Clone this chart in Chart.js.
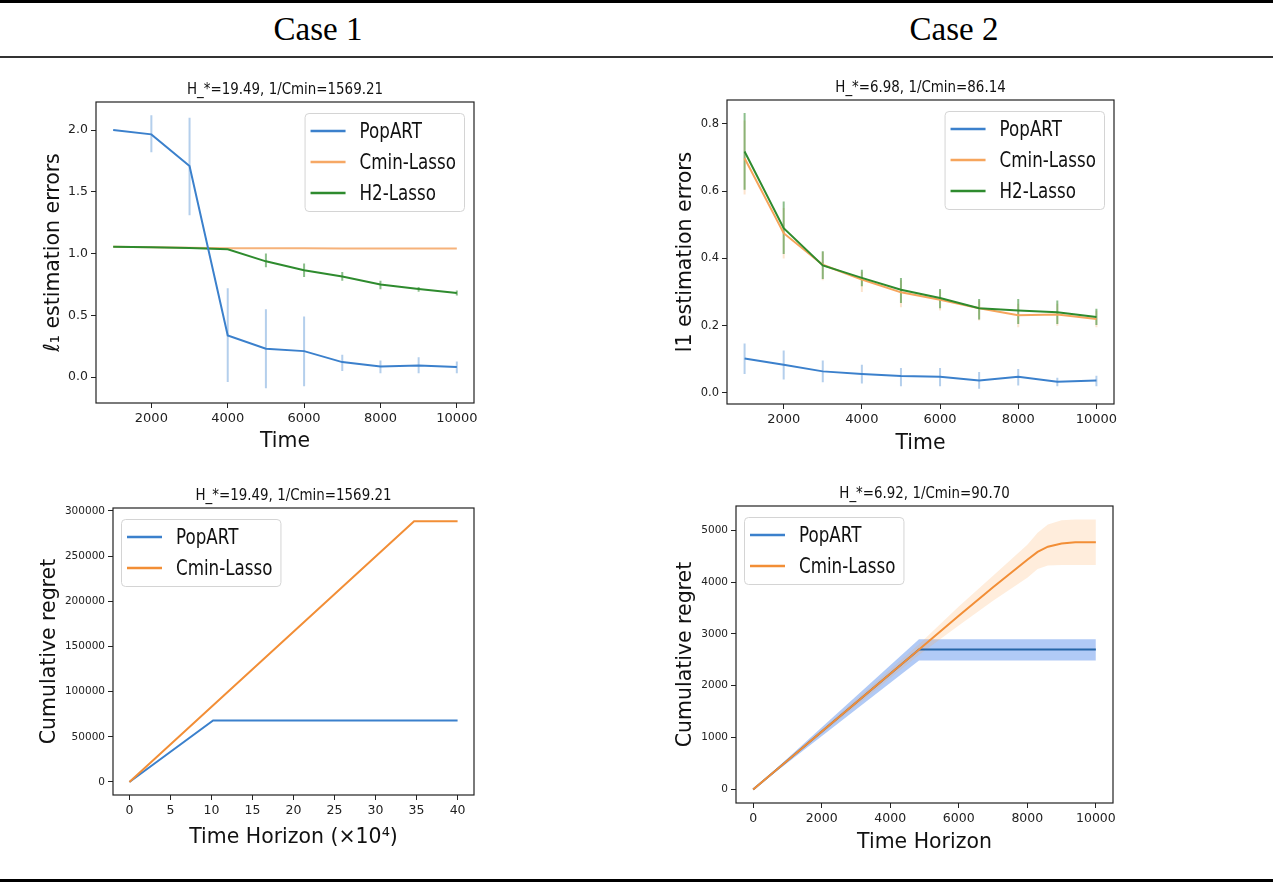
<!DOCTYPE html>
<html>
<head>
<meta charset="utf-8">
<script src="https://cdn.jsdelivr.net/npm/chart.js@4.4.1/dist/chart.umd.min.js"></script>
<style>
  body { margin: 0; background: #fff; width: 1273px; height: 885px; position: relative; overflow: hidden; }
  .rule { position: absolute; left: 0; width: 1273px; background: #000; }
  .case { position: absolute; top: 8px; width: 636px; height: 42px; line-height: 42px; text-align: center;
          font-family: "Liberation Serif", "Times New Roman", serif; font-size: 33px; color: #000; }
  canvas { position: absolute; }
</style>
</head>
<body>
<div class="rule" style="top:0;height:3px"></div>
<div class="case" style="left:0">Case 1</div>
<div class="case" style="left:636px">Case 2</div>
<div class="rule" style="top:56px;height:2px;background:#333"></div>
<div class="rule" style="top:879px;height:3px"></div>

<canvas id="p1"></canvas>
<canvas id="p2"></canvas>
<canvas id="p3"></canvas>
<canvas id="p4"></canvas>

<script>
// ---- data ----
var steps = [1000, 2000, 3000, 4000, 5000, 6000, 7000, 8000, 9000, 10000];

// case 1, estimation errors
var c1PopartErr   = [2.00, 1.965, 1.708, 0.337, 0.229, 0.21, 0.121, 0.086, 0.094, 0.081];
var c1PopartErrLo = [2.00, 1.82, 1.31, -0.04, -0.09, -0.075, 0.05, 0.03, 0.03, 0.03];
var c1PopartErrHi = [2.00, 2.12, 2.10, 0.72, 0.55, 0.49, 0.18, 0.135, 0.16, 0.125];
var c1CminErr     = [1.055, 1.05, 1.046, 1.043, 1.042, 1.042, 1.041, 1.04, 1.04, 1.04];
var c1H2Err       = [1.055, 1.05, 1.045, 1.034, 0.937, 0.864, 0.815, 0.75, 0.713, 0.68];
var c1H2ErrLo     = [1.055, 1.05, 1.045, 1.03, 0.89, 0.81, 0.78, 0.71, 0.69, 0.66];
var c1H2ErrHi     = [1.055, 1.05, 1.045, 1.04, 1.00, 0.92, 0.85, 0.78, 0.73, 0.70];

// case 2, estimation errors
var c2PopartErr   = [0.102, 0.084, 0.064, 0.056, 0.05, 0.048, 0.037, 0.048, 0.033, 0.037];
var c2PopartErrLo = [0.056, 0.04, 0.032, 0.028, 0.02, 0.02, 0.012, 0.022, 0.02, 0.02];
var c2PopartErrHi = [0.147, 0.126, 0.096, 0.084, 0.074, 0.074, 0.062, 0.071, 0.045, 0.051];
var c2CminErr     = [0.698, 0.475, 0.381, 0.337, 0.299, 0.277, 0.252, 0.231, 0.233, 0.22];
var c2CminErrLo   = [0.59, 0.40, 0.335, 0.30, 0.255, 0.245, 0.215, 0.195, 0.20, 0.195];
var c2CminErrHi   = [0.81, 0.55, 0.42, 0.36, 0.335, 0.305, 0.275, 0.265, 0.265, 0.245];
var c2H2Err       = [0.718, 0.49, 0.379, 0.342, 0.307, 0.282, 0.252, 0.245, 0.24, 0.226];
var c2H2ErrLo     = [0.604, 0.413, 0.339, 0.317, 0.267, 0.252, 0.218, 0.205, 0.205, 0.202];
var c2H2ErrHi     = [0.832, 0.569, 0.421, 0.366, 0.342, 0.309, 0.279, 0.279, 0.275, 0.25];

// case 1, cumulative regret (time in units of 10^4)
var c1PopartT   = [0, 10.2, 40];
var c1PopartReg = [0, 68000, 68000];
var c1CminT     = [0, 34.7, 40];
var c1CminReg   = [0, 288500, 288500];

// case 2, cumulative regret
var c2PopartT     = [0, 4840, 10000];
var c2PopartReg   = [0, 2700, 2700];
var c2PopartRegLo = [0, 2487, 2487];
var c2PopartRegHi = [0, 2897, 2897];
var c2CminT     = [0, 4840, 6000, 7000, 8000, 8300, 8600, 9000, 9400, 10000];
var c2CminReg   = [0, 2700, 3350, 3900, 4430, 4580, 4680, 4740, 4765, 4765];
var c2CminRegLo = [0, 2600, 3160, 3640, 4080, 4250, 4320, 4330, 4330, 4330];
var c2CminRegHi = [0, 2800, 3530, 4120, 4720, 4950, 5110, 5190, 5205, 5205];

// tick labels
var errXTicks  = [2000, 4000, 6000, 8000, 10000];
var c1ErrYTicks = [0, 0.5, 1.0, 1.5, 2.0];
var c2ErrYTicks = [0, 0.2, 0.4, 0.6, 0.8];
var c1RegXTicks = [0, 5, 10, 15, 20, 25, 30, 35, 40];
var c1RegYTicks = [0, 50000, 100000, 150000, 200000, 250000, 300000];
var c2RegXTicks = [0, 2000, 4000, 6000, 8000, 10000];
var c2RegYTicks = [0, 1000, 2000, 3000, 4000, 5000];

// ---- helpers ----
var FONT = "DejaVu Sans";
var BLUE = "#3b80cc", ORANGE = "#f28e36", GREEN = "#2e8b2e";

function pts(xs, ys) {
    return xs.map(function (x, i) { return { x: x, y: ys[i] }; });
}

// vertical error bar segments, separated by gaps
function segs(xs, lo, hi) {
    var out = [];
    xs.forEach(function (x, i) {
        out.push({ x: x, y: lo[i] }, { x: x, y: hi[i] }, { x: x, y: null });
    });
    return out;
}

function lineDs(xs, ys, color, order) {
    return { data: pts(xs, ys), borderColor: color, borderWidth: 2, pointRadius: 0, fill: false, order: order };
}

function errDs(xs, lo, hi, color, order) {
    return { data: segs(xs, lo, hi), borderColor: color, borderWidth: 2, pointRadius: 0, fill: false, spanGaps: false, order: order };
}

function bandDs(xs, lo, hi, color, order) {
    return [
        { data: pts(xs, hi), borderWidth: 0, pointRadius: 0, fill: "+1", backgroundColor: color, order: order },
        { data: pts(xs, lo), borderWidth: 0, pointRadius: 0, fill: false, order: order }
    ];
}

// text squeezed horizontally, like the reference figure
function squeezed(ctx, text, x, y, size, sx, rot) {
    ctx.save();
    ctx.translate(x, y);
    if (rot) ctx.rotate(rot);
    ctx.scale(sx, 1);
    ctx.font = size + "px " + FONT;
    ctx.fillText(text, 0, 0);
    ctx.restore();
}

// frame, titles and in-plot legend (matplotlib look)
function decor(o, box) {
    return {
        id: "decor",
        afterDatasetsDraw: function (chart) {
            var a = chart.chartArea, ctx = chart.ctx;
            ctx.save();
            ctx.strokeStyle = "#222";
            ctx.lineWidth = 1.2;
            ctx.strokeRect(a.left, a.top, a.right - a.left, a.bottom - a.top);
            ctx.restore();
        },
        afterDraw: function (chart) {
            var a = chart.chartArea, ctx = chart.ctx;
            var cx = (a.left + a.right) / 2, cy = (a.top + a.bottom) / 2;
            ctx.save();
            ctx.fillStyle = "#111";
            ctx.textAlign = "center";
            ctx.textBaseline = "middle";
            squeezed(ctx, o.title, cx, a.top - 12, 15.5, 0.865, 0);
            squeezed(ctx, o.xTitle, cx, o.xLabelY - box.y, 22, 0.93, 0);
            squeezed(ctx, o.yTitle, o.yLabelX - box.x, cy, 22, 0.93, -Math.PI / 2);

            var items = o.legendItems, sx = 0.76;
            ctx.font = "22px " + FONT;
            var tw = Math.max.apply(null, items.map(function (it) { return ctx.measureText(it.label).width; })) * sx;
            var w = 6 + 35 + 14 + tw + 8, h = 36 + (items.length - 1) * 31;
            var x = o.legendSide === "right" ? a.right - 10 - w : a.left + 8;
            var y = a.top + 11;
            ctx.beginPath();
            ctx.roundRect(x + 0.5, y + 0.5, w, h, 4);
            ctx.fillStyle = "rgba(255,255,255,0.85)";
            ctx.fill();
            ctx.strokeStyle = "#d4d4d4";
            ctx.lineWidth = 1;
            ctx.stroke();
            ctx.textAlign = "left";
            items.forEach(function (it, i) {
                var ly = y + 18 + i * 31;
                ctx.beginPath();
                ctx.moveTo(x + 6, ly);
                ctx.lineTo(x + 41, ly);
                ctx.strokeStyle = it.color;
                ctx.lineWidth = 2.5;
                ctx.stroke();
                ctx.fillStyle = "#111";
                squeezed(ctx, it.label, x + 55, ly + 1, 22, sx, 0);
            });
            ctx.restore();
        }
    };
}

function makePanel(id, box, area, o) {
    var cv = document.getElementById(id);
    cv.width = box.w;
    cv.height = box.h;
    cv.style.left = box.x + "px";
    cv.style.top = box.y + "px";
    cv.style.width = box.w + "px";
    cv.style.height = box.h + "px";

    return new Chart(cv, {
        type: "line",
        data: { datasets: o.datasets },
        options: {
            responsive: false,
            animation: false,
            layout: { padding: { left: 0, top: area.t - box.y, right: box.x + box.w - area.r, bottom: 0 } },
            plugins: { legend: { display: false }, tooltip: { enabled: false } },
            elements: { line: { tension: 0 }, point: { radius: 0 } },
            scales: {
                x: {
                    type: "linear",
                    min: o.xMin,
                    max: o.xMax,
                    afterBuildTicks: function (s) { s.ticks = o.xTicks.map(function (v) { return { value: v }; }); },
                    afterFit: function (s) { s.height = box.y + box.h - area.b; },
                    grid: { drawOnChartArea: false, color: "#222", tickLength: 5 },
                    border: { display: false },
                    ticks: { font: { family: FONT, size: o.xTickSize }, color: "#222", padding: 3, autoSkip: false,
                             maxRotation: 0, minRotation: 0, callback: o.xFmt }
                },
                y: {
                    type: "linear",
                    min: o.yMin,
                    max: o.yMax,
                    afterBuildTicks: function (s) { s.ticks = o.yTicks.map(function (v) { return { value: v }; }); },
                    afterFit: function (s) { s.width = area.l - box.x; },
                    grid: { drawOnChartArea: false, color: "#222", tickLength: 5 },
                    border: { display: false },
                    ticks: { font: { family: FONT, size: o.yTickSize }, color: "#222", padding: 3, autoSkip: false, callback: o.yFmt }
                }
            }
        },
        plugins: [decor(o, box)]
    });
}

var fmt1 = function (v) { return Number(v).toFixed(1); };
var fmt0 = function (v) { return String(v); };

// ---- top left: case 1 errors ----
makePanel("p1", { x: 0, y: 70, w: 510, h: 390 }, { l: 96, t: 102, r: 474, b: 403 }, {
    title: "H_*=19.49, 1/Cmin=1569.21",
    xTitle: "Time", yTitle: "ℓ₁ estimation errors",
    xLabelY: 441, yLabelX: 53, xTickSize: 13, yTickSize: 12.5,
    xMin: 550, xMax: 10450, yMin: -0.21, yMax: 2.227,
    xTicks: errXTicks, yTicks: c1ErrYTicks, xFmt: fmt0, yFmt: fmt1,
    legendSide: "right",
    legendItems: [{ label: "PopART", color: BLUE }, { label: "Cmin-Lasso", color: "#f6a865" }, { label: "H2-Lasso", color: GREEN }],
    datasets: [
        lineDs(steps, c1PopartErr, BLUE, 0),
        lineDs(steps, c1H2Err, GREEN, 1),
        lineDs(steps, c1CminErr, "#f6b27a", 2),
        errDs(steps, c1H2ErrLo, c1H2ErrHi, "rgba(46,139,46,0.55)", 4),
        errDs(steps, c1PopartErrLo, c1PopartErrHi, "rgba(59,128,204,0.38)", 5)
    ]
});

// ---- top right: case 2 errors ----
makePanel("p2", { x: 640, y: 70, w: 633, h: 390 }, { l: 727, t: 100, r: 1114, b: 404 }, {
    title: "H_*=6.98, 1/Cmin=86.14",
    xTitle: "Time", yTitle: "l1 estimation errors",
    xLabelY: 443, yLabelX: 685, xTickSize: 13, yTickSize: 11.5,
    xMin: 550, xMax: 10450, yMin: -0.033, yMax: 0.871,
    xTicks: errXTicks, yTicks: c2ErrYTicks, xFmt: fmt0, yFmt: fmt1,
    legendSide: "right",
    legendItems: [{ label: "PopART", color: BLUE }, { label: "Cmin-Lasso", color: "#f6a55c" }, { label: "H2-Lasso", color: GREEN }],
    datasets: [
        lineDs(steps, c2H2Err, GREEN, 0),
        lineDs(steps, c2CminErr, "#f6a55c", 1),
        lineDs(steps, c2PopartErr, BLUE, 2),
        errDs(steps, c2H2ErrLo, c2H2ErrHi, "rgba(46,139,46,0.55)", 3),
        errDs(steps, c2CminErrLo, c2CminErrHi, "rgba(246,165,92,0.3)", 4),
        errDs(steps, c2PopartErrLo, c2PopartErrHi, "rgba(59,128,204,0.38)", 5)
    ]
});

// ---- bottom left: case 1 regret ----
makePanel("p3", { x: 0, y: 470, w: 510, h: 390 }, { l: 113, t: 508, r: 474, b: 795 }, {
    title: "H_*=19.49, 1/Cmin=1569.21",
    xTitle: "Time Horizon (×10⁴)", yTitle: "Cumulative regret",
    xLabelY: 837, yLabelX: 49, xTickSize: 12.5, yTickSize: 10.5,
    xMin: -2, xMax: 42, yMin: -14400, yMax: 303300,
    xTicks: c1RegXTicks, yTicks: c1RegYTicks, xFmt: fmt0, yFmt: fmt0,
    legendSide: "left",
    legendItems: [{ label: "PopART", color: BLUE }, { label: "Cmin-Lasso", color: ORANGE }],
    datasets: [
        lineDs(c1CminT, c1CminReg, ORANGE, 0),
        lineDs(c1PopartT, c1PopartReg, BLUE, 1)
    ]
});

// ---- bottom right: case 2 regret ----
makePanel("p4", { x: 640, y: 470, w: 633, h: 390 }, { l: 736, t: 506, r: 1113, b: 803 }, {
    title: "H_*=6.92, 1/Cmin=90.70",
    xTitle: "Time Horizon", yTitle: "Cumulative regret",
    xLabelY: 842, yLabelX: 685, xTickSize: 12.5, yTickSize: 10.5,
    xMin: -500, xMax: 10500, yMin: -260, yMax: 5465,
    xTicks: c2RegXTicks, yTicks: c2RegYTicks, xFmt: fmt0, yFmt: fmt0,
    legendSide: "left",
    legendItems: [{ label: "PopART", color: BLUE }, { label: "Cmin-Lasso", color: ORANGE }],
    datasets: [
        lineDs(c2CminT, c2CminReg, ORANGE, 0),
        lineDs(c2PopartT, c2PopartReg, "#2666a8", 1)
    ].concat(
        bandDs(c2CminT, c2CminRegLo, c2CminRegHi, "rgba(255,165,80,0.2)", 5),
        bandDs(c2PopartT, c2PopartRegLo, c2PopartRegHi, "rgba(100,149,237,0.5)", 6)
    )
});
</script>
</body>
</html>
